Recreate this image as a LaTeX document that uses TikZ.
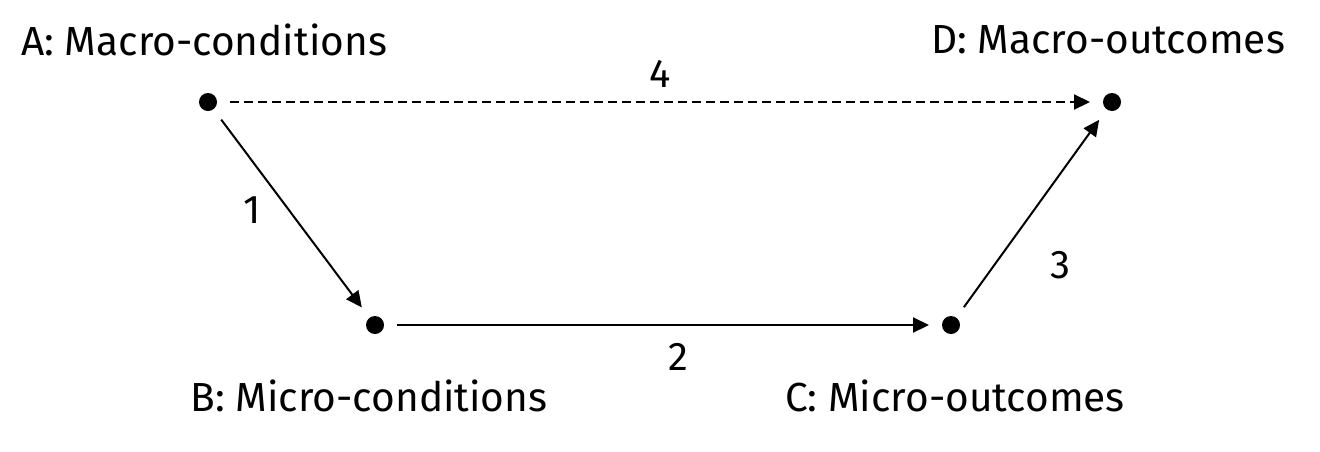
\documentclass[tikz,border=0pt]{standalone}
\usepackage{fontspec}
\setmainfont{Fira Sans}
\usetikzlibrary{arrows.meta}
\tikzset{
	dot/.style={circle, fill=black, inner sep=0pt, minimum size=9pt, outer sep=6.5pt},
	caption/.style={font=\fontsize{20.3}{22}\selectfont, inner sep=0pt},
	num/.style={font=\fontsize{20}{22}\selectfont, inner sep=0pt},
	link/.style={line width=1pt, -{Triangle[length=8pt, width=7.5pt]}}
}

\begin{document}
\begin{tikzpicture}[x=0.5pt, y=-0.5pt]
		%%%%% START %%%%%
		
		\useasboundingbox (0, 0) rectangle (1320, 451);
		
		\node[dot] (A) at (208, 102) {};
		\node[dot] (B) at (375, 325) {};
		\node[dot] (C) at (951, 325) {};
		\node[dot] (D) at (1112, 102) {};
		
		\node[caption] (Atext) at (204, 40) {A: Macro-conditions};
		\node[caption] (Dtext) at (1108, 40) {D: Macro-outcomes};
		\node[caption] (Btext) at (369, 396) {B: Micro-conditions};
		\node[caption] (Ctext) at (955, 396) {C: Micro-outcomes};
		
		\draw[link] (A) -- (B);
		\draw[link] (B) -- (C);
		\draw[link] (C) -- (D);
		\draw[link, dash pattern=on 4.5pt off 2.5pt] (A) -- (D);
		
		\node[num] (n1) at (252, 210) {1};
		\node[num] (n2) at (678, 357) {2};
		\node[num] (n3) at (1060, 265) {3};
		\node[num] (n4) at (660, 74) {4};
		
		%%%%% END %%%%%
	\end{tikzpicture}
\end{document}
